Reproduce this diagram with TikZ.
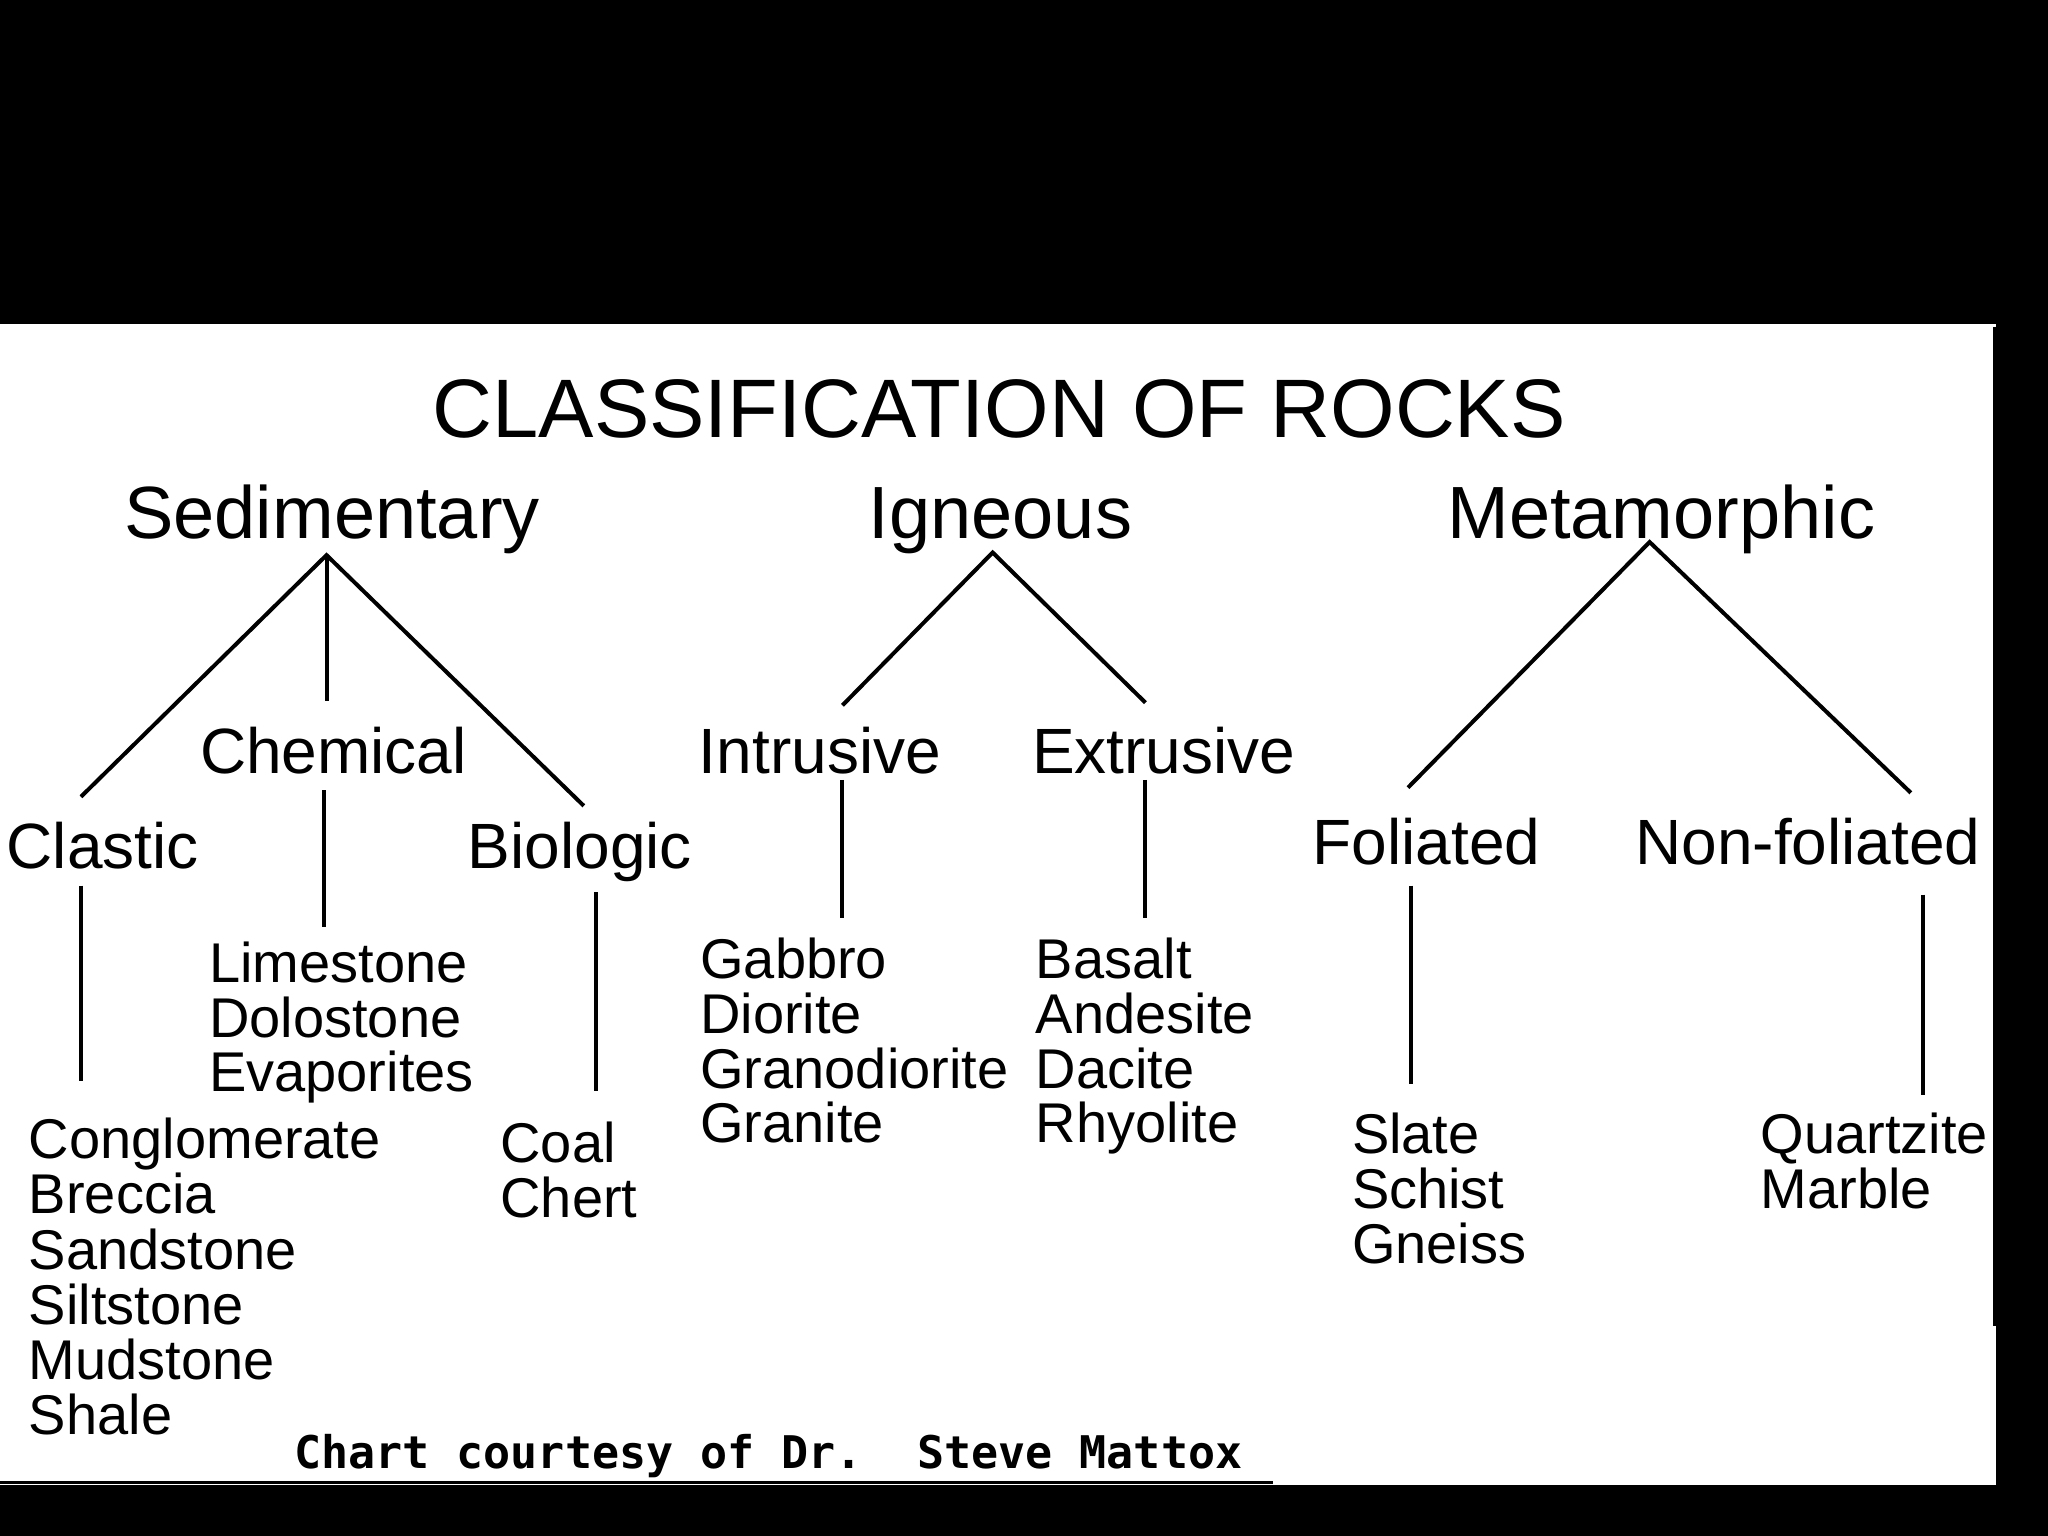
\documentclass[tikz,border=0pt]{standalone}
\usepackage{fontspec}
\setmainfont{Liberation Sans}
\newfontfamily\footfont{DejaVu Sans Mono}
\begin{document}
\begin{tikzpicture}[x=1.306pt,y=-1.306pt,
  every node/.style={inner sep=0pt,anchor=base west},
  ttl/.style={font=\fontsize{83}{83}\selectfont},
  big/.style={font=\fontsize{74}{74}\selectfont},
  mid/.style={font=\fontsize{64}{64}\selectfont},
  rock/.style={font=\fontsize{56}{56}\selectfont},
  ln/.style={line width=4pt}]
\useasboundingbox (0,0) rectangle (1568,1176);
\fill[black] (0,0) rectangle (1568,1176);
\fill[white] (0,248) rectangle (1528,1137);
\draw[line width=3pt] (1527,250) -- (1527,1015);
\draw[line width=2.5pt] (0,1135) -- (975,1135);
\node[ttl,anchor=base] (title) at (765,335) {CLASSIFICATION OF ROCKS};
\node[big] (sed) at (95,412) {Sedimentary};
\node[big] (ign) at (665,412) {Igneous};
\node[big] (met) at (1108,412) {Metamorphic};
\node[mid] (chem) at (153,592) {Chemical};
\node[mid] (clas) at (5,665) {Clastic};
\node[mid] (bio) at (358,665) {Biologic};
\node[mid] (intr) at (535,592) {Intrusive};
\node[mid] (extr) at (790,592) {Extrusive};
\node[mid] (fol) at (1005,662) {Foliated};
\node[mid] (nfol) at (1252,662) {Non-foliated};
\foreach \t [count=\i] in {Limestone,Dolostone,Evaporites}
  \node[rock] (ch\i) at (160,752+42*\i-42) {\t};
\foreach \t [count=\i] in {Conglomerate,Breccia,Sandstone,Siltstone,Mudstone,Shale}
  \node[rock] (cl\i) at (22,887+42.3*\i-42.3) {\t};
\foreach \t [count=\i] in {Coal,Chert}
  \node[rock] (bi\i) at (383,890+42*\i-42) {\t};
\foreach \t [count=\i] in {Gabbro,Diorite,Granodiorite,Granite}
  \node[rock] (in\i) at (536,749+42*\i-42) {\t};
\foreach \t [count=\i] in {Basalt,Andesite,Dacite,Rhyolite}
  \node[rock] (ex\i) at (793,749+42*\i-42) {\t};
\foreach \t [count=\i] in {Slate,Schist,Gneiss}
  \node[rock] (fo\i) at (1035,883+42*\i-42) {\t};
\foreach \t [count=\i] in {Quartzite,Marble}
  \node[rock] (nf\i) at (1348,883+42*\i-42) {\t};
\node[font=\footfont\bfseries\fontsize{45}{45}\selectfont] (foot) at (225,1124) {Chart courtesy of Dr.~~Steve Mattox};
\coordinate (sA) at (250,425); \coordinate (sL) at (62,610); \coordinate (sM) at (250,537); \coordinate (sR) at (447,617);
\coordinate (c1) at (248,605); \coordinate (c2) at (248,710);
\coordinate (k1) at (62,678); \coordinate (k2) at (62,828);
\coordinate (b1) at (456,683); \coordinate (b2) at (456,835);
\coordinate (iA) at (760,423); \coordinate (iL) at (645,540); \coordinate (iR) at (877,538);
\coordinate (n1) at (645,597); \coordinate (n2) at (645,703);
\coordinate (e1) at (877,597); \coordinate (e2) at (877,703);
\coordinate (mA) at (1263,415); \coordinate (mL) at (1078,603); \coordinate (mR) at (1463,607);
\coordinate (f1) at (1080,678); \coordinate (f2) at (1080,830);
\coordinate (q1) at (1472,685); \coordinate (q2) at (1472,838);
\draw[ln] (sL) -- (sA) -- (sR); \draw[ln] (sA) -- (sM);
\draw[ln] (c1) -- (c2); \draw[ln] (k1) -- (k2); \draw[ln] (b1) -- (b2);
\draw[ln] (iL) -- (iA) -- (iR);
\draw[ln] (n1) -- (n2); \draw[ln] (e1) -- (e2);
\draw[ln] (mL) -- (mA) -- (mR);
\draw[ln] (f1) -- (f2); \draw[ln] (q1) -- (q2);
\end{tikzpicture}
\end{document}
